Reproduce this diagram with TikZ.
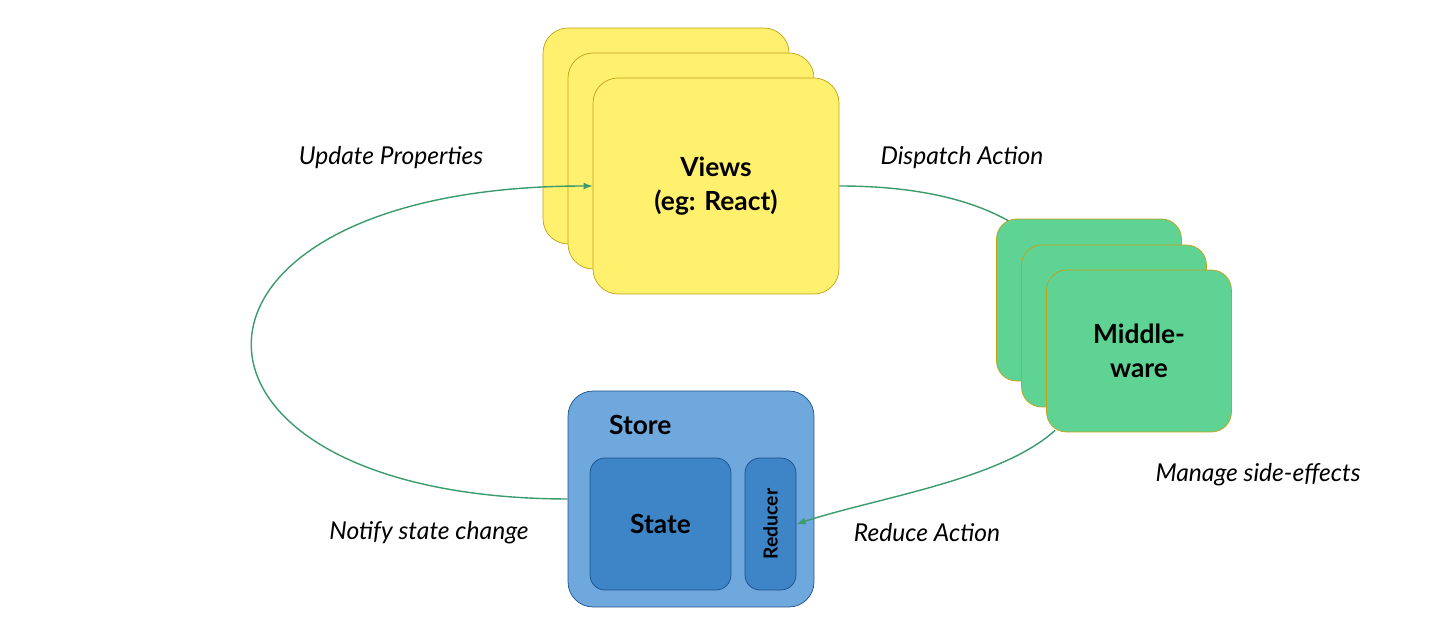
\documentclass[tikz,border=0pt]{standalone}
\usepackage{fontspec}
\setmainfont{Lato}
\usetikzlibrary{calc}
\definecolor{viewfill}{RGB}{255,240,110}
\definecolor{viewline}{RGB}{196,160,20}
\definecolor{midfill}{RGB}{95,211,148}
\definecolor{storefill}{RGB}{111,168,220}
\definecolor{storeline}{RGB}{30,80,140}
\definecolor{statefill}{RGB}{61,133,198}
\definecolor{flow}{RGB}{60,155,110}
\tikzset{
  viewbox/.style={draw=viewline, fill=viewfill, rounded corners=0.5cm,
    minimum width=4.92cm, minimum height=4.32cm},
  midbox/.style={draw=viewline, fill=midfill, rounded corners=0.4cm,
    minimum width=3.7cm, minimum height=3.24cm},
  inbox/.style={draw=storeline, fill=statefill, rounded corners=0.3cm,
    minimum height=2.64cm},
  flowline/.style={draw=flow, thick},
  tag/.style={font=\fontsize{14}{16}\selectfont\itshape},
  title/.style={font=\fontsize{15}{19}\selectfont\bfseries, align=center}
}
\begin{document}
\begin{tikzpicture}[x=0.02cm, y=-0.02cm, >=latex]
		\useasboundingbox (0,0) rectangle (1440,634);
		% views
		\node[viewbox] (v1) at (666,136) {};
		\node[viewbox] (v2) at (691,161) {};
		\node[viewbox, title] (v3) at (716,186) {Views\\(eg: React)};
		% middleware
		\node[midbox] (m1) at (1089,300) {};
		\node[midbox] (m2) at (1114,326) {};
		\node[midbox, title] (m3) at (1139,351) {Middle-\\ware};
		% store
		\node[draw=storeline, fill=storefill, rounded corners=0.5cm,
		  minimum width=4.92cm, minimum height=4.32cm] (st) at (691,499) {};
		\node[title, anchor=west] (stl) at (603,425) {Store};
		\node[inbox, minimum width=2.82cm, title] (sa) at (660.5,524) {State};
		\node[inbox, minimum width=1.02cm] (rd) at (770.5,524) {};
		\node[title, rotate=90] (rdl) at (rd.center) {\fontsize{11}{13}\selectfont Reducer};
		
		\coordinate (mtop) at ($(m1.north west)+(12,2)$);
		\coordinate (mbot) at ($(m3.south west)+(9,-2)$);
		\draw[flowline] (v3.east) .. controls (930,186) and (980,205) .. (mtop);
		\draw[flowline,->] (mbot) .. controls (1000,480) and (880,497) .. (rd.east);
		\draw[flowline,->] (st.west) .. controls (143,498) and (143,186) .. (v3.west);
		
		\node[tag] (up) at (391,158) {Update Properties};
		\node[tag] (da) at (962,158) {Dispatch Action};
		\node[tag] (ms) at (1258,475) {Manage side-effects};
		\node[tag] (ra) at (927,533) {Reduce Action};
		\node[tag] (ns) at (429,533) {Notify state change};
\end{tikzpicture}
\end{document}
